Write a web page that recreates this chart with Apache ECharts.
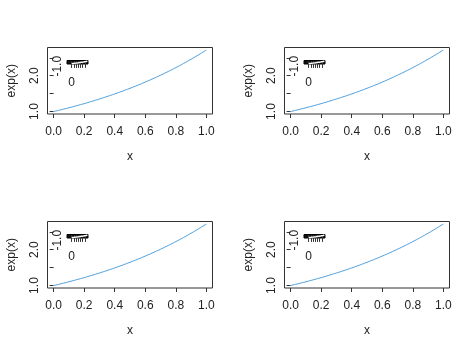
<!DOCTYPE html>
<html>
<head>
<meta charset="utf-8">
<script src="https://cdn.jsdelivr.net/npm/echarts@6/dist/echarts.min.js"></script>
<style>
  html, body { margin: 0; padding: 0; background: #fff; }
  #chart { width: 474px; height: 348px; }
</style>
</head>
<body>
<div id="chart"></div>
<script>
// curve(exp, 0, 1) sampled values
const xValues = [0.00, 0.05, 0.10, 0.15, 0.20, 0.25, 0.30, 0.35, 0.40, 0.45, 0.50,
                 0.55, 0.60, 0.65, 0.70, 0.75, 0.80, 0.85, 0.90, 0.95, 1.00];
const expValues = [1.000, 1.051, 1.105, 1.162, 1.221, 1.284, 1.350, 1.419, 1.492, 1.568, 1.649,
                   1.733, 1.822, 1.916, 2.014, 2.117, 2.226, 2.340, 2.460, 2.586, 2.718];
const xTicks = [0, 0.2, 0.4, 0.6, 0.8, 1.0];
const yTicks = [1.0, 1.5, 2.0, 2.5];
const yLabels = [1.0, 2.0];
// small inset axes
const insetXTicks = [0, 0.14, 0.28, 0.42, 0.56, 0.7, 0.84];
const insetXLabels = [0];
const insetYLabels = [-1];
const xTitle = 'x';
const yTitle = 'exp(x)';

const font = 'Liberation Sans, Arial, sans-serif';
const ink = '#222';
const curveColor = '#4f9fdc';

const panels = [[0, 0], [237, 0], [0, 174], [237, 174]];
const grids = [], xAxes = [], yAxes = [], series = [];
const pts = xValues.map((x, i) => [x, expValues[i]]);

panels.forEach(([ox, oy], p) => {
  // main plot
  grids.push({ left: 47.5 + ox, top: 47.5 + oy, width: 165, height: 66.5,
               show: true, borderColor: '#333', borderWidth: 1, backgroundColor: 'transparent' });
  const gi = grids.length - 1;
  xAxes.push({
    type: 'value', gridIndex: gi, min: -0.04, max: 1.04,
    axisLine: { show: false }, splitLine: { show: false },
    axisTick: { show: true, length: 4, customValues: xTicks, lineStyle: { color: '#333' } },
    axisLabel: { customValues: xTicks, margin: 12, color: ink, fontFamily: font, fontSize: 12,
                 formatter: v => v.toFixed(1) },
    name: xTitle, nameLocation: 'middle', nameGap: 37,
    nameTextStyle: { color: ink, fontFamily: font, fontSize: 12 }
  });
  yAxes.push({
    type: 'value', gridIndex: gi, min: 1 - 0.0687, max: 2.718 + 0.0687,
    axisLine: { show: false }, splitLine: { show: false },
    axisTick: { show: true, length: 4, customValues: yTicks, lineStyle: { color: '#333' } },
    axisLabel: { customValues: yLabels, margin: 7, rotate: 90, color: ink, fontFamily: font, fontSize: 12,
                 formatter: v => v.toFixed(1) },
    name: yTitle, nameLocation: 'middle', nameGap: 30,
    nameTextStyle: { color: ink, fontFamily: font, fontSize: 12 }
  });
  series.push({ type: 'line', xAxisIndex: gi, yAxisIndex: gi, data: pts, showSymbol: false,
                smooth: true, lineStyle: { color: curveColor, width: 1 }, silent: true });

  // inset plot
  grids.push({ left: 67 + ox, top: 60.5 + oy, width: 21, height: 3.5,
               show: true, borderColor: '#000', borderWidth: 1, backgroundColor: '#111' });
  const ii = grids.length - 1;
  xAxes.push({
    type: 'value', gridIndex: ii, min: -0.3, max: 1.04,
    axisLine: { show: false }, splitLine: { show: false },
    axisTick: { show: true, length: 7, customValues: insetXTicks, lineStyle: { color: '#333' } },
    axisLabel: { customValues: insetXLabels, margin: 12.5, color: ink, fontFamily: font, fontSize: 12,
                 formatter: v => String(v) }
  });
  yAxes.push({
    type: 'value', gridIndex: ii, min: -2.3, max: 0.3,
    axisLine: { show: false }, splitLine: { show: false }, axisTick: { show: false },
    axisLabel: { customValues: insetYLabels, margin: 3, rotate: 90, color: ink, fontFamily: font, fontSize: 12,
                 padding: [0, 8, 0, 0], formatter: v => v.toFixed(1) }
  });
  series.push({ type: 'line', xAxisIndex: ii, yAxisIndex: ii,
                data: xValues.map((x, i) => [x, expValues[i] - 2.9]), showSymbol: false,
                lineStyle: { color: '#fff', width: 1.5 }, silent: true });
});

const chart = echarts.init(document.getElementById('chart'), null, { renderer: 'canvas' });
chart.setOption({
  animation: false,
  backgroundColor: '#fff',
  grid: grids, xAxis: xAxes, yAxis: yAxes, series: series
});
</script>
</body>
</html>
